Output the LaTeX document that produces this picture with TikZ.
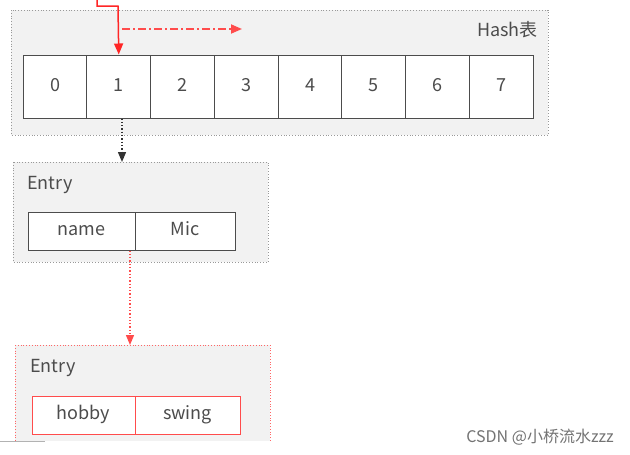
\documentclass[tikz,border=0pt]{standalone}
\usepackage{fontspec}
\setmainfont{Noto Sans CJK SC}
\usetikzlibrary{arrows.meta}
\begin{document}
\begin{tikzpicture}[x=1pt,y=-1pt,
  cont/.style={draw=gray!80,dotted,fill=gray!10,line width=0.8pt},
  cell/.style={draw=black!70,fill=white,line width=1pt,minimum height=63pt,minimum width=64pt,inner sep=0pt,font=\fontsize{18}{18}\selectfont,text=black!70,text height=13pt,text depth=4pt},
  ecell/.style={draw=black!70,fill=white,line width=1pt,minimum height=38pt,inner sep=0pt,font=\fontsize{18}{18}\selectfont,text=black!70,text height=13pt,text depth=4pt},
  lbl/.style={font=\fontsize{18}{18}\selectfont,text=black!70,anchor=west,inner sep=0pt}]
\useasboundingbox (0,0) rectangle (630,455);
\fill[white] (0,0) rectangle (630,455);
% hash container
\draw[cont] (11,10) rectangle (548,135);
\node[lbl,anchor=east] (ht) at (538,30) {Hash表};
\foreach \i in {0,...,7}{
  \node[cell] (c\i) at (55+63.75*\i,86.5) {\i};
}
% entry 1
\draw[cont] (13,162) rectangle (268,262);
\node[lbl] (e1) at (27,185) {Entry};
\node[ecell,minimum width=107pt] (n1) at (81.5,231) {name};
\node[ecell,minimum width=100pt] (m1) at (185,231) {Mic};
% entry 2
\draw[cont,draw=red!60] (15,345) rectangle (270,460);
\node[lbl] (e2) at (30,368) {Entry};
\node[ecell,draw=red!70,minimum width=103pt] (h2) at (83.5,415) {hobby};
\node[ecell,draw=red!70,minimum width=105pt] (s2) at (187.5,415) {swing};
% arrows
\coordinate (rt) at (97,0);
\draw[red!85,line width=1.5pt,-{Triangle[length=11pt,width=9pt]}] (rt) |- (118,6) -- (c1.north);
\coordinate (da) at (122,29);
\coordinate (db) at (242,29);
\draw[red!70,line width=1.8pt,dash pattern=on 8pt off 3pt on 2pt off 3pt,-{Triangle[length=11pt,width=9pt]}] (da) -- (db);
\coordinate (t1) at (122,162);
\draw[black!80,dotted,line width=1.3pt,-{Triangle[length=10pt,width=8pt]}] (c1.south -| t1) -- (t1);
\coordinate (t2) at (130,345);
\draw[red!70,dotted,line width=1.3pt,-{Triangle[length=10pt,width=8pt]}] (n1.south -| t2) -- (t2);
% bottom strip
\fill[white] (0,441) rectangle (630,455);
\draw[gray!60,line width=0.8pt] (0,441) -- (45,441);
\node[font=\fontsize{16}{16}\selectfont,text=black!55,anchor=east,inner sep=0pt] (wm) at (614,437) {CSDN @小桥流水zzz};
\end{tikzpicture}
\end{document}
